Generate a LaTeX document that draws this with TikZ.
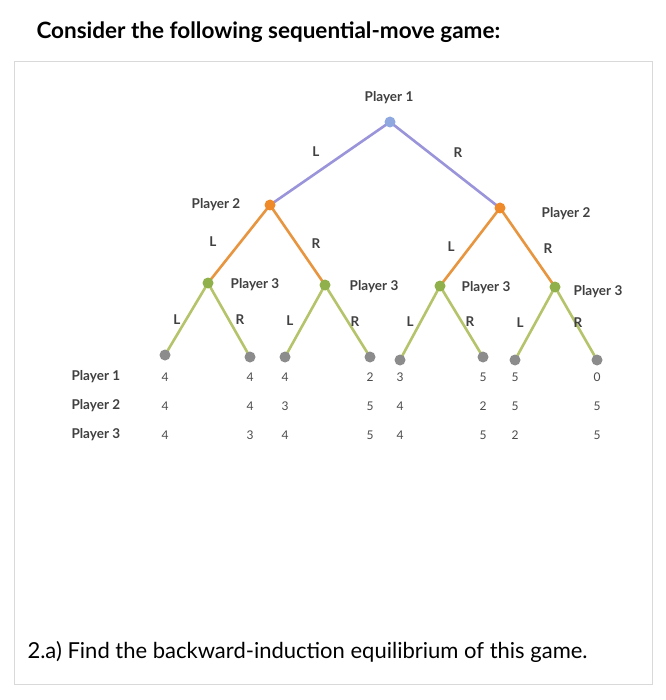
\documentclass[tikz,border=0pt]{standalone}
\usepackage{fontspec}
\setmainfont{Lato}
\definecolor{pc1}{HTML}{9A94DA}
\definecolor{pc2}{HTML}{E8953F}
\definecolor{pc3}{HTML}{B5C46A}
\definecolor{nc1}{HTML}{8FA8E0}
\definecolor{nc2}{HTML}{EE8A2A}
\definecolor{nc3}{HTML}{8FB04A}
\begin{document}
\begin{tikzpicture}[x=1pt,y=-1pt,
  lab/.style={font=\fontsize{13.5}{15}\selectfont\bfseries, text=black!75},
  pay/.style={font=\fontsize{12}{14}\selectfont, text=black!70},
  pone/.style={draw=pc1, line width=2.6pt},
  ptwo/.style={draw=pc2, line width=2.6pt},
  pthr/.style={draw=pc3, line width=2.6pt},
  dot/.style={circle, inner sep=0pt, minimum size=11pt}]
\useasboundingbox (0,0) rectangle (665,700);
\fill[white] (0,0) rectangle (665,700);
\draw[black!15, line width=1pt] (14,62) rectangle (652,684);
\node[anchor=west, font=\fontsize{22.5}{26}\selectfont\bfseries] (title) at (33,32) {Consider the following sequential-move game:};
\node[anchor=west, font=\fontsize{22}{26}\selectfont] (q) at (24,652) {2.a) Find the backward-induction equilibrium of this game.};
% nodes
\coordinate (a) at (390,122);
\coordinate (b1) at (270,205); \coordinate (b2) at (500,208);
\coordinate (c1) at (208,283); \coordinate (c2) at (325,285);
\coordinate (c3) at (440,286); \coordinate (c4) at (555,287);
\coordinate (t1) at (165,355); \coordinate (t2) at (250,357);
\coordinate (t3) at (285,357); \coordinate (t4) at (370,357);
\coordinate (t5) at (400,360); \coordinate (t6) at (483,357);
\coordinate (t7) at (515,360); \coordinate (t8) at (597,360);
\draw[pone] (a)--(b1); \draw[pone] (a)--(b2);
\draw[ptwo] (b1)--(c1); \draw[ptwo] (b1)--(c2);
\draw[ptwo] (b2)--(c3); \draw[ptwo] (b2)--(c4);
\draw[pthr] (c1)--(t1); \draw[pthr] (c1)--(t2);
\draw[pthr] (c2)--(t3); \draw[pthr] (c2)--(t4);
\draw[pthr] (c3)--(t5); \draw[pthr] (c3)--(t6);
\draw[pthr] (c4)--(t7); \draw[pthr] (c4)--(t8);
\node[dot, fill=nc1] (na) at (a) {};
\foreach \n in {b1,b2} \node[dot, fill=nc2] (n\n) at (\n) {};
\foreach \n in {c1,c2,c3,c4} \node[dot, fill=nc3] (n\n) at (\n) {};
\foreach \n in {t1,t2,t3,t4,t5,t6,t7,t8} \node[dot, fill=black!45] (n\n) at (\n) {};
% player labels
\node[lab] (l1) at (389,98) {Player 1};
\node[lab] (l2) at (216,205) {Player 2};
\node[lab] (l3) at (566,214) {Player 2};
\node[lab] (l4) at (255,285) {Player 3};
\node[lab] (l5) at (374,287) {Player 3};
\node[lab] (l6) at (486,288) {Player 3};
\node[lab] (l7) at (598,292) {Player 3};
% branch labels
\node[lab] at (316,152) {L}; \node[lab] at (458,153) {R};
\node[lab] at (213,242) {L}; \node[lab] at (316,244) {R};
\node[lab] at (451,247) {L}; \node[lab] at (548,249) {R};
\node[lab] at (177,320) {L}; \node[lab] at (240,320) {R};
\node[lab] at (290,321) {L}; \node[lab] at (355,322) {R};
\node[lab] at (410,322) {L}; \node[lab] at (470,322) {R};
\node[lab] at (520,323) {L}; \node[lab] at (578,323) {R};
% payoff rows
\node[lab, anchor=west] at (68,377) {Player 1};
\node[lab, anchor=west] at (68,406) {Player 2};
\node[lab, anchor=west] at (68,435) {Player 3};
\foreach \x/\p/\q/\r in {165/4/4/4, 250/4/4/3, 285/4/3/4, 370/2/5/5, 400/3/4/4, 483/5/2/5, 515/5/5/2, 597/0/5/5}{
  \node[pay] at (\x,377) {\p};
  \node[pay] at (\x,406) {\q};
  \node[pay] at (\x,435) {\r};
}
\end{tikzpicture}
\end{document}
